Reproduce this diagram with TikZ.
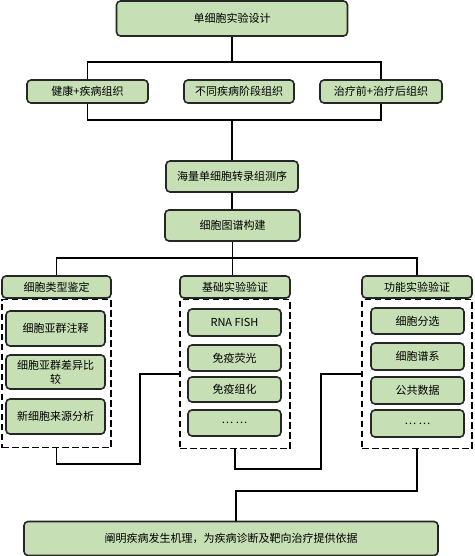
\documentclass[tikz,border=0pt]{standalone}
\usepackage{fontspec}
\setmainfont{Noto Sans CJK SC}
\usetikzlibrary{positioning}
\definecolor{boxgreen}{HTML}{C6DFB4}
\definecolor{boxline}{HTML}{262626}

\begin{document}
\begin{tikzpicture}[x=1pt,y=-1pt,
    stepbox/.style={draw=boxline, line width=1.6pt, fill=boxgreen, rounded corners=4pt,
                    inner sep=0pt, align=center, font=\fontsize{11}{14}\selectfont},
    groupbox/.style={draw=black, line width=1.5pt, dash pattern=on 6.5pt off 3.5pt, inner sep=0pt},
    link/.style={draw=black, line width=1.4pt}]
    \useasboundingbox (0,0) rectangle (474,556);

    % design and samples
    \node[stepbox, minimum width=231pt, minimum height=35pt] (design) at (232,18.5) {单细胞实验设计};
    \node[stepbox, minimum width=121pt, minimum height=23pt] (healthy) at (87.5,91.5) {健康+疾病组织};
    \node[stepbox, minimum width=110pt, minimum height=23pt] (stage) at (239,91.5) {不同疾病阶段组织};
    \node[stepbox, minimum width=122pt, minimum height=23pt] (therapy) at (381,91.5) {治疗前+治疗后组织};

    \node[stepbox, minimum width=132pt, minimum height=31pt] (seq) at (232,176.5) {海量单细胞转录组测序};
    \node[stepbox, minimum width=135pt, minimum height=31pt] (atlas) at (232.5,225.5) {细胞图谱构建};

    \coordinate (split1) at (232,62);
    \coordinate (merge1) at (232,120);
    \coordinate (split2) at (232,258);
    \draw[link] (design.south) -- (split1);
    \draw[link] (healthy.north) |- (split1) -| (therapy.north);
    \draw[link] (healthy.south) |- (merge1) -| (therapy.south);
    \draw[link] (merge1) -- (merge1 |- seq.north);
    \draw[link] (seq.south) -- (seq.south |- atlas.north);

    % three branches
    \node[stepbox, minimum width=109pt, minimum height=22pt] (typing) at (56.5,287) {细胞类型鉴定};
    \node[stepbox, minimum width=110pt, minimum height=22pt] (basic) at (235,287) {基础实验验证};
    \node[stepbox, minimum width=110pt, minimum height=22pt] (func) at (417,287) {功能实验验证};
    \draw[link] (atlas.south) -- (atlas.south |- basic.north);
    \draw[link] (typing.north) |- (split2) -| (func.north);

    \node[groupbox, anchor=north, minimum width=109pt, minimum height=148pt] (typinggrp) at (typing.south) {};
    \node[groupbox, anchor=north, minimum width=110pt, minimum height=149pt] (basicgrp) at (basic.south) {};
    \node[groupbox, anchor=north, minimum width=110pt, minimum height=149pt] (funcgrp) at (func.south) {};

    \foreach \y/\h/\txt [count=\i] in {328.5/35/细胞亚群注释, 372/34/{细胞亚群差异比\\较}, 416.5/35/新细胞来源分析}
        \node[stepbox, minimum width=99pt, minimum height=\h pt] (cell\i) at (55.5,\y) {\txt};
    \foreach \y/\h/\txt [count=\i] in {322.5/27/RNA FISH, 358/26/免疫荧光, 389.5/25/免疫组化, 423/26/{\ldots\ \ldots}}
        \node[stepbox, minimum width=93pt, minimum height=\h pt] (exp\i) at (234.5,\y) {\txt};
    \foreach \y/\h/\txt [count=\i] in {321/26/细胞分选, 356.5/27/细胞谱系, 390.5/27/公共数据, 423.5/27/{\ldots\ \ldots}}
        \node[stepbox, minimum width=93pt, minimum height=\h pt] (fun\i) at (417.5,\y) {\txt};

    % conclusion
    \node[stepbox, minimum width=414pt, minimum height=34pt] (final) at (231,538.5) {阐明疾病发生机理，为疾病诊断及靶向治疗提供依据};

    \coordinate (j1) at (140,464);
    \coordinate (j2) at (321,469);
    \coordinate (j3) at (236,491);
    \draw[link] (typinggrp.south) |- (j1) |- (basicgrp.west);
    \draw[link] (basicgrp.south) |- (j2) |- (funcgrp.west);
    \draw[link] (funcgrp.south) |- (j3) -- (j3 |- final.north);
\end{tikzpicture}
\end{document}
